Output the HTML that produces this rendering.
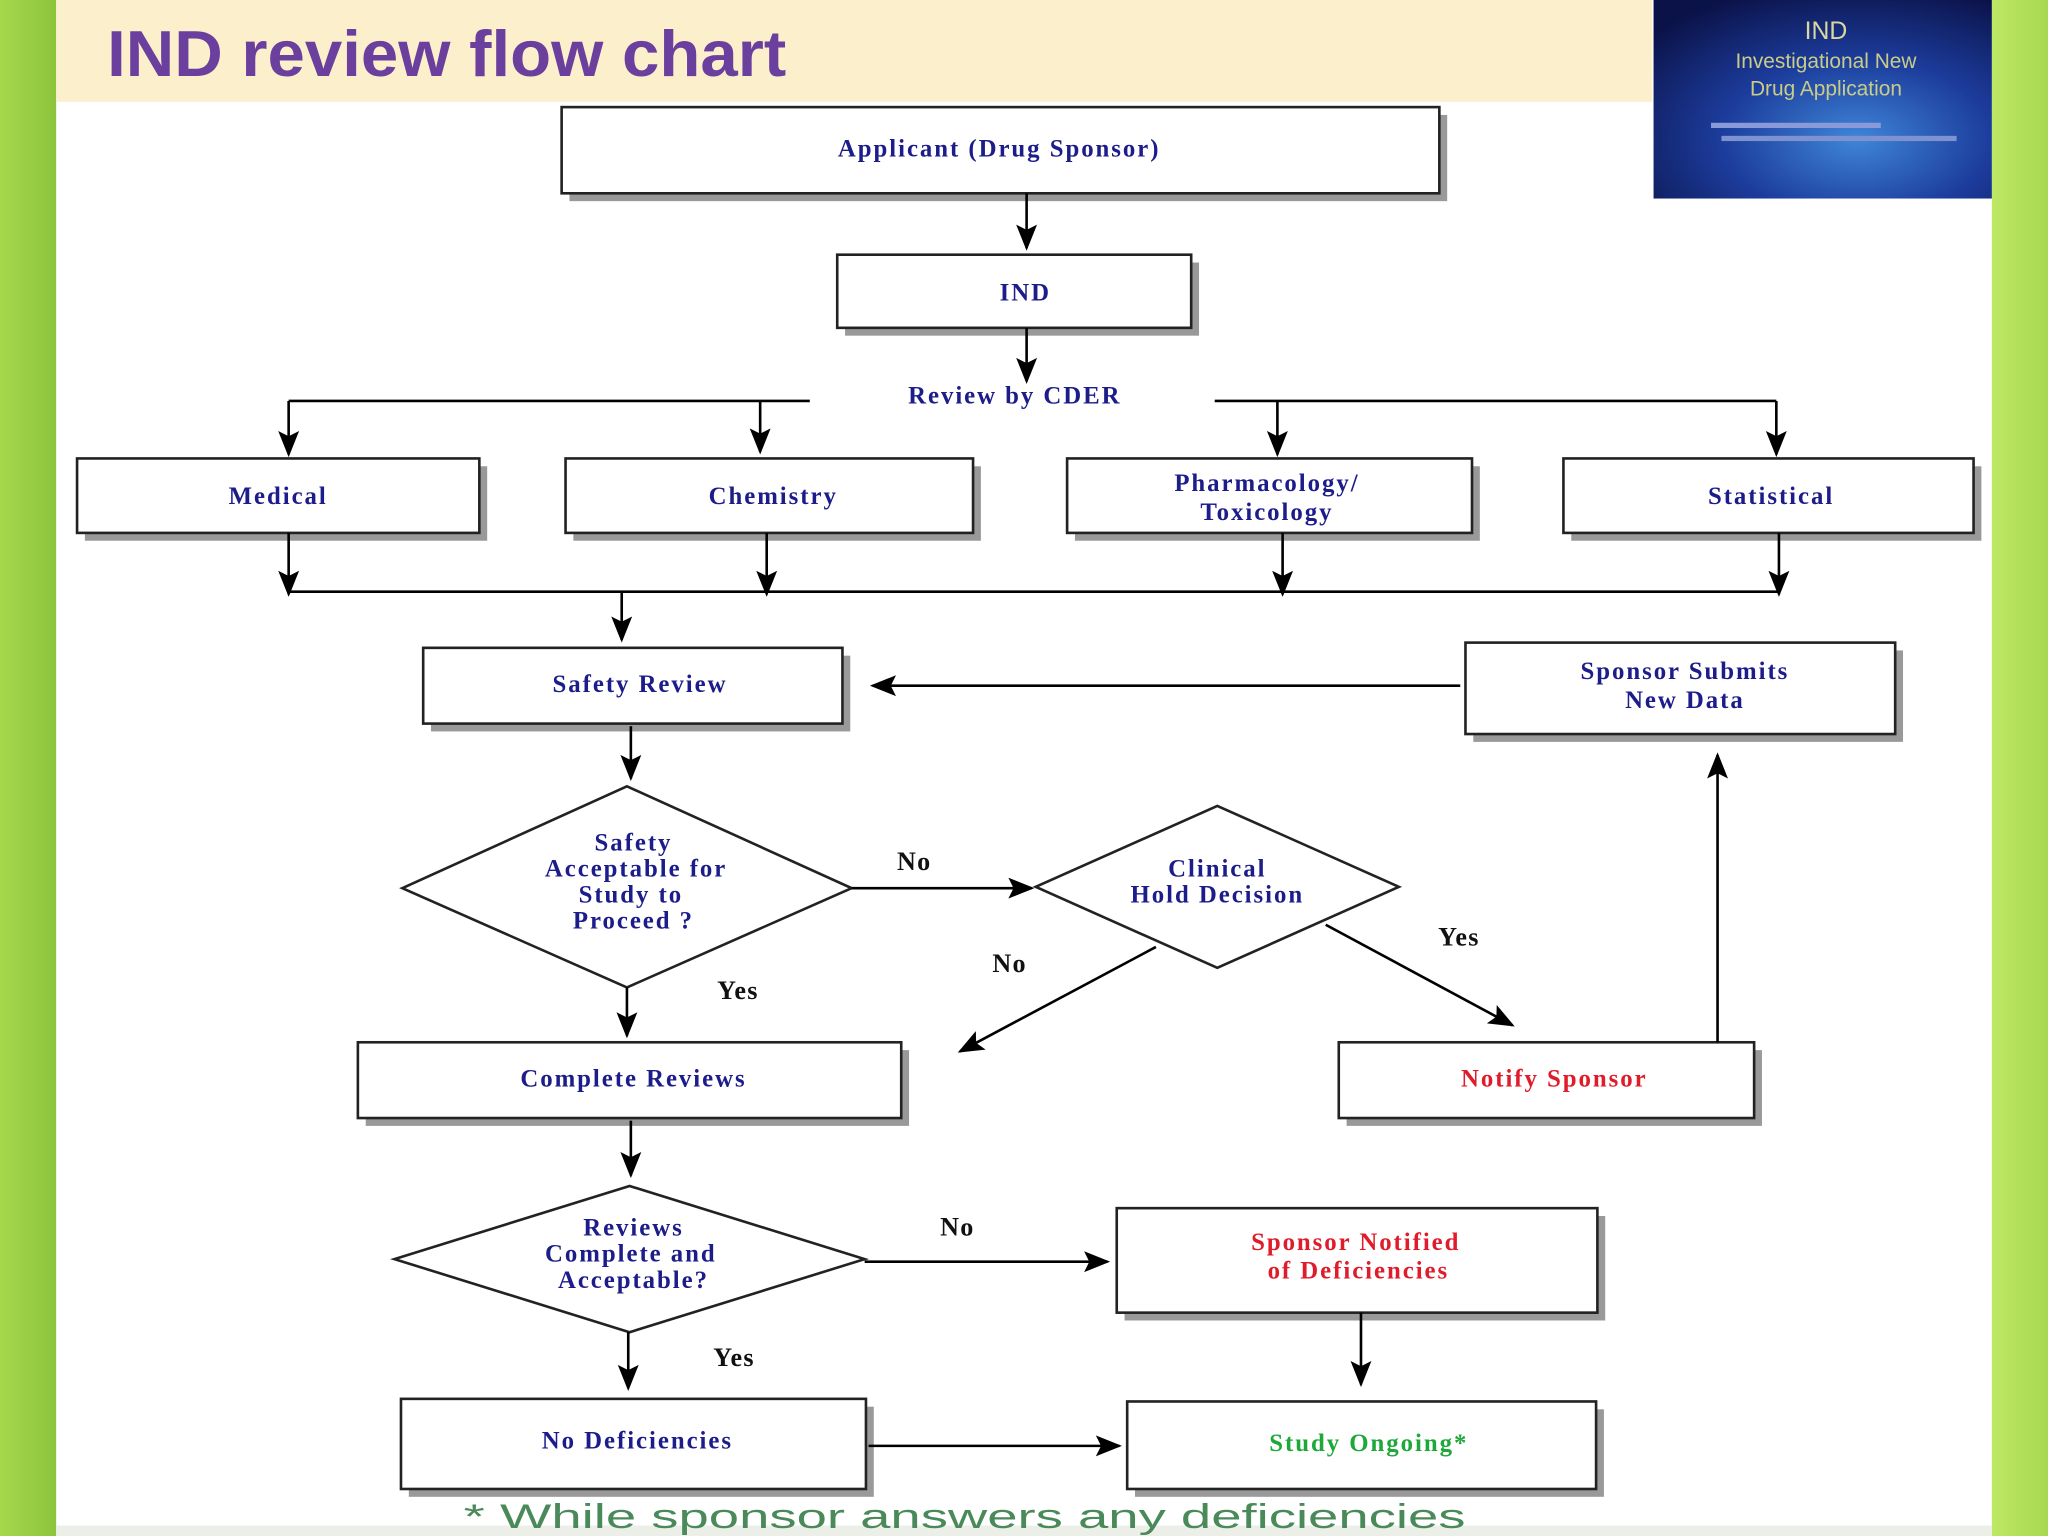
<!DOCTYPE html>
<html><head><meta charset="utf-8"><style>
html,body{margin:0;padding:0;width:2048px;height:1536px;overflow:hidden;background:#fff}
svg{display:block}
.t{font-family:"Liberation Serif",serif;font-weight:bold;fill:#1c1c8a;font-size:19px;text-anchor:middle;letter-spacing:1.5px}
.r{fill:#e01b2a}.g{fill:#1fa83a}
.l{font-family:"Liberation Serif",serif;font-weight:bold;fill:#111;font-size:20px;text-anchor:middle;letter-spacing:1px}
</style></head><body>
<svg width="2048" height="1536" viewBox="0 0 1568 1176" xmlns="http://www.w3.org/2000/svg">
<defs>
<linearGradient id="gl" x1="0" x2="1"><stop offset="0" stop-color="#a6d84c"/><stop offset="1" stop-color="#8cc43c"/></linearGradient>
<linearGradient id="gr" x1="0" x2="1"><stop offset="0" stop-color="#bde866"/><stop offset="1" stop-color="#a8d850"/></linearGradient>
<radialGradient id="th" cx="0.6" cy="0.7" r="0.8"><stop offset="0" stop-color="#3f86d8"/><stop offset="0.5" stop-color="#1c3c9c"/><stop offset="1" stop-color="#0b1248"/></radialGradient>
<marker id="b" viewBox="0 0 10 10" refX="9" refY="5" markerWidth="20" markerHeight="20" orient="auto" markerUnits="userSpaceOnUse"><path d="M0,1 L10,5 L0,9 L2,5 z" fill="#000"/></marker>
</defs>
<rect x="0" y="0" width="43" height="1176" fill="url(#gl)"/>
<rect x="1525" y="0" width="43" height="1176" fill="url(#gr)"/>
<rect x="43" y="0" width="1222" height="78" fill="#fcefcc"/>
<text x="82" y="58" font-family="Liberation Sans,sans-serif" font-size="50" font-weight="bold" fill="#6a3f9e" textLength="520" lengthAdjust="spacingAndGlyphs">IND review flow chart</text>
<rect x="1266" y="0" width="259" height="152" fill="url(#th)"/>
<text x="1398" y="30" font-family="Liberation Sans,sans-serif" font-size="19" fill="#d9d8a0" text-anchor="middle">IND</text>
<text x="1398" y="52" font-family="Liberation Sans,sans-serif" font-size="16" fill="#c9cc88" text-anchor="middle">Investigational New</text>
<text x="1398" y="73" font-family="Liberation Sans,sans-serif" font-size="16" fill="#c9cc88" text-anchor="middle">Drug Application</text>
<rect x="1310" y="94" width="130" height="4" fill="#8a9ad8"/><rect x="1318" y="104" width="180" height="4" fill="#7e92d0"/>
<rect x="43" y="1168" width="1482" height="8" fill="#eceee8"/>
<g fill="#fff" stroke="#222" stroke-width="2">
<rect x="436" y="88" width="672" height="66" fill="#999" stroke="none"/><rect x="430" y="82" width="672" height="66"/>
<rect x="647" y="201" width="271" height="56" fill="#999" stroke="none"/><rect x="641" y="195" width="271" height="56"/>
<rect x="65" y="357" width="308" height="57" fill="#999" stroke="none"/><rect x="59" y="351" width="308" height="57"/>
<rect x="439" y="357" width="312" height="57" fill="#999" stroke="none"/><rect x="433" y="351" width="312" height="57"/>
<rect x="823" y="357" width="310" height="57" fill="#999" stroke="none"/><rect x="817" y="351" width="310" height="57"/>
<rect x="1203" y="357" width="314" height="57" fill="#999" stroke="none"/><rect x="1197" y="351" width="314" height="57"/>
<rect x="330" y="502" width="321" height="58" fill="#999" stroke="none"/><rect x="324" y="496" width="321" height="58"/>
<rect x="1128" y="498" width="329" height="70" fill="#999" stroke="none"/><rect x="1122" y="492" width="329" height="70"/>
<rect x="280" y="804" width="416" height="58" fill="#999" stroke="none"/><rect x="274" y="798" width="416" height="58"/>
<rect x="1031" y="804" width="318" height="58" fill="#999" stroke="none"/><rect x="1025" y="798" width="318" height="58"/>
<rect x="861" y="931" width="368" height="80" fill="#999" stroke="none"/><rect x="855" y="925" width="368" height="80"/>
<rect x="313" y="1077" width="356" height="69" fill="#999" stroke="none"/><rect x="307" y="1071" width="356" height="69"/>
<rect x="869" y="1079" width="359" height="67" fill="#999" stroke="none"/><rect x="863" y="1073" width="359" height="67"/>
<polygon points="308,680 480,602 652,680 480,756"/>
<polygon points="793,679 932,617 1071,679 932,741"/>
<polygon points="302,964 482,908 662,964 482,1020"/>
</g>
<g stroke="#000" stroke-width="2" fill="none">
<line x1="786" y1="148" x2="786" y2="190" marker-end="url(#b)"/>
<line x1="786" y1="251" x2="786" y2="292" marker-end="url(#b)"/>
<polyline points="620,307 221,307"/><polyline points="930,307 1360,307"/>
<line x1="221" y1="307" x2="221" y2="348" marker-end="url(#b)"/>
<line x1="582" y1="307" x2="582" y2="346" marker-end="url(#b)"/>
<line x1="978" y1="307" x2="978" y2="348" marker-end="url(#b)"/>
<line x1="1360" y1="307" x2="1360" y2="348" marker-end="url(#b)"/>
<line x1="221" y1="408" x2="221" y2="455" marker-end="url(#b)"/>
<line x1="587" y1="408" x2="587" y2="455" marker-end="url(#b)"/>
<line x1="982" y1="408" x2="982" y2="455" marker-end="url(#b)"/>
<line x1="1362" y1="408" x2="1362" y2="455" marker-end="url(#b)"/>
<line x1="221" y1="453" x2="1362" y2="453"/>
<line x1="476" y1="453" x2="476" y2="490" marker-end="url(#b)"/>
<line x1="1118" y1="525" x2="668" y2="525" marker-end="url(#b)"/>
<line x1="483" y1="556" x2="483" y2="596" marker-end="url(#b)"/>
<line x1="652" y1="680" x2="790" y2="680" marker-end="url(#b)"/>
<line x1="1015" y1="708" x2="1158" y2="785" marker-end="url(#b)"/>
<line x1="885" y1="725" x2="735" y2="805" marker-end="url(#b)"/>
<line x1="480" y1="756" x2="480" y2="793" marker-end="url(#b)"/>
<line x1="1315" y1="798" x2="1315" y2="578" marker-end="url(#b)"/>
<line x1="483" y1="858" x2="483" y2="900" marker-end="url(#b)"/>
<line x1="662" y1="966" x2="848" y2="966" marker-end="url(#b)"/>
<line x1="1042" y1="1005" x2="1042" y2="1060" marker-end="url(#b)"/>
<line x1="481" y1="1020" x2="481" y2="1063" marker-end="url(#b)"/>
<line x1="665" y1="1107" x2="857" y2="1107" marker-end="url(#b)"/>
</g>
<text class="t" x="765" y="120">Applicant (Drug Sponsor)</text>
<text class="t" x="785" y="230">IND</text>
<text class="t" x="777" y="309" font-size="21">Review by CDER</text>
<text class="t" x="213" y="386">Medical</text>
<text class="t" x="592" y="386">Chemistry</text>
<text class="t" x="970" y="376">Pharmacology/</text>
<text class="t" x="970" y="398">Toxicology</text>
<text class="t" x="1356" y="386">Statistical</text>
<text class="t" x="490" y="530">Safety Review</text>
<text class="t" x="1290" y="520">Sponsor Submits</text>
<text class="t" x="1290" y="542">New Data</text>
<text class="t" x="485" y="651" font-size="17">Safety</text>
<text class="t" x="487" y="671" font-size="17">Acceptable for</text>
<text class="t" x="483" y="691" font-size="17">Study to</text>
<text class="t" x="485" y="711" font-size="17">Proceed ?</text>
<text class="t" x="932" y="671" font-size="17">Clinical</text>
<text class="t" x="932" y="691" font-size="17">Hold Decision</text>
<text class="t" x="485" y="832">Complete Reviews</text>
<text class="t r" x="1190" y="832">Notify Sponsor</text>
<text class="t" x="485" y="946" font-size="17">Reviews</text>
<text class="t" x="483" y="966" font-size="17">Complete and</text>
<text class="t" x="485" y="986" font-size="17">Acceptable?</text>
<text class="t r" x="1038" y="957">Sponsor Notified</text>
<text class="t r" x="1040" y="979">of Deficiencies</text>
<text class="t" x="488" y="1109">No Deficiencies</text>
<text class="t g" x="1048" y="1111">Study Ongoing*</text>
<text class="l" x="700" y="666">No</text>
<text class="l" x="1117" y="724">Yes</text>
<text class="l" x="773" y="744">No</text>
<text class="l" x="565" y="765">Yes</text>
<text class="l" x="733" y="946">No</text>
<text class="l" x="562" y="1046">Yes</text>
<text x="355" y="1170" font-family="Liberation Sans,sans-serif" font-size="26" fill="#4a8a5a" textLength="767" lengthAdjust="spacingAndGlyphs">* While sponsor answers any deficiencies</text>
</svg>
</body></html>
